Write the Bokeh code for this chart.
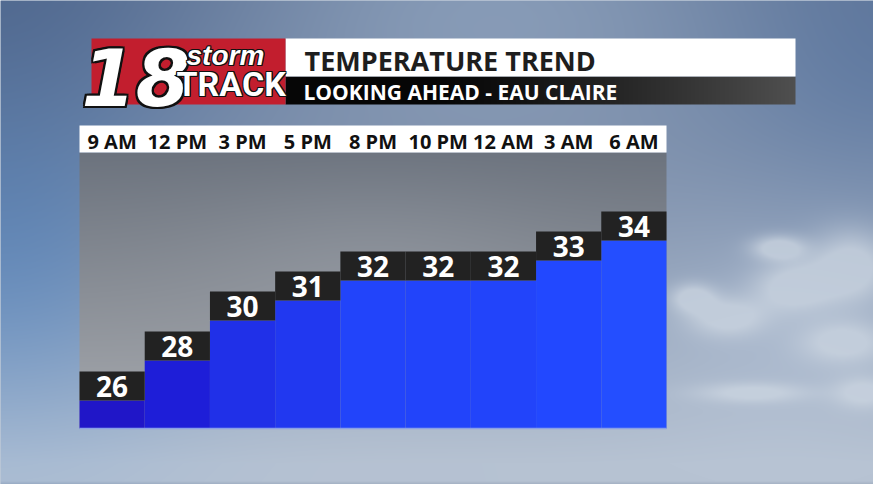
import numpy as np
from bokeh.plotting import figure
from bokeh.models import Range1d
from bokeh.core.properties import value
from bokeh.embed import file_html
from bokeh.resources import INLINE

# ---------------- data ----------------
HOURS = ["9 AM", "12 PM", "3 PM", "5 PM", "8 PM", "10 PM", "12 AM", "3 AM", "6 AM"]
TEMPS = [26, 28, 30, 31, 32, 32, 32, 33, 34]
TITLE = "TEMPERATURE TREND"
SUBTITLE = "LOOKING AHEAD - EAU CLAIRE"

# ---------------- styles ----------------
BAR_COLORS = ["#2016c8", "#1e1ed8", "#2030e8", "#2138f0", "#2244fa",
              "#2244fa", "#2244fa", "#2248ff", "#244eff"]
BOX_COLOR = "#222222"
FONT = "Open Sans"

# ---------------- layout helpers (reference pixel -> data) ----------------
W, H = 873, 484
BW = 587 / 9.0          # pixels per bar slot
PX_PER_DEG = 20.0       # pixels per degree
Y_BASE = 24.6           # bottom of the bar panel, degrees
SHIFT = 0.32            # baseline correction, fraction of font size


def X(px):
    return (px - 87) / BW - 0.5


def Y(py):
    return Y_BASE + (436 - py) / PX_PER_DEG


def TY(py, size):
    return Y(py - SHIFT * size)


BOX_H = 29 / PX_PER_DEG

p = figure(width=W, height=H, output_backend="svg", toolbar_location=None,
           x_range=Range1d(X(8), X(8 + W)), y_range=Range1d(Y(8 + H), Y(8)),
           min_border=0)
p.axis.visible = False
p.grid.visible = False
p.outline_line_color = None
p.background_fill_color = "#8096b2"
p.border_fill_color = "#8096b2"

# ---------------- background image ----------------
xs = np.arange(W) + 8.0
ys = np.arange(H) + 8.0
XX, YY = np.meshgrid(xs, ys)


def g(cx, cy, sx, sy):
    return np.exp(-(((XX - cx) / sx) ** 2 + ((YY - cy) / sy) ** 2))


def add(img, col, w):
    return img + np.array(col, float)[None, None, :] * w[..., None]


t = np.clip(YY / 470.0, 0, 1) ** 1.2
top = np.array([104, 124, 156], float)
bot = np.array([182, 194, 210], float)
img = top[None, None, :] * (1 - t[..., None]) + bot[None, None, :] * t[..., None]
img = add(img, [-40, -20, 2], g(0, 280, 200, 190))
img = add(img, [-18, -16, -12], g(0, 0, 220, 150))
img = add(img, [30, 30, 26], g(500, 0, 260, 130))
img = add(img, [-16, -10, -2], g(889, 90, 160, 140))
img = add(img, [10, 10, 10], g(790, 330, 140, 110))
img = add(img, [-35, -32, -28], np.clip((YY - 488) / 6.0, 0, 1))
cloud = (g(800, 295, 40, 26) + g(858, 275, 40, 36) + g(735, 325, 40, 20)
         + g(850, 350, 45, 22) + g(760, 400, 55, 10) + g(870, 400, 30, 16)
         + g(785, 255, 26, 12) + g(700, 305, 22, 14))
cloud = np.clip(cloud * 1.3, 0, 1) * 0.8
cc = np.array([202, 212, 224], float)
img = img * (1 - cloud[..., None]) + cc[None, None, :] * cloud[..., None]

# chart panel
panel = (XX >= 87) & (XX < 674) & (YY >= 160) & (YY < 436)
tp = np.clip((YY - 160) / 276.0, 0, 1)
pc = (np.array([108, 115, 126], float)[None, None, :] * (1 - tp[..., None])
      + np.array([166, 169, 174], float)[None, None, :] * tp[..., None])
pc += 10 * g(380, 260, 180, 90)[..., None]
img[panel] = pc[panel]

# subtitle bar gradient
sub = (XX >= 293) & (XX < 803) & (YY >= 84) & (YY < 112)
v = np.clip((XX - 430) / (803 - 430), 0, 1) ** 1.3
gray = 6 + 74 * v
img[sub] = np.stack([gray, gray, gray], axis=-1)[sub]

img = np.clip(img, 0, 255).astype(np.uint8)
rgba = np.empty((H, W), dtype=np.uint32)
view = rgba.view(dtype=np.uint8).reshape((H, W, 4))
view[..., :3] = img
view[..., 3] = 255
rgba = np.flipud(rgba)
p.image_rgba(image=[rgba], x=X(8), y=Y(8 + H), dw=X(8 + W) - X(8), dh=Y(8) - Y(8 + H))

# ---------------- header ----------------
p.quad(left=[X(293)], right=[X(803)], top=[Y(46)], bottom=[Y(84)],
       fill_color="white", line_color=None)
p.quad(left=[X(99)], right=[X(293)], top=[Y(46)], bottom=[Y(112)],
       fill_color="#c21e2e", line_color=None)
p.text(x=[X(312)], y=[TY(77, 27)], text=[TITLE], text_align="left",
       text_baseline="alphabetic", text_font=value(FONT), text_font_style="bold",
       text_font_size="27px", text_color="#1e1e1e")
p.text(x=[X(311)], y=[TY(106, 21)], text=[SUBTITLE], text_align="left",
       text_baseline="alphabetic", text_font=value(FONT), text_font_style="bold",
       text_font_size="21px", text_color="white")


def outlined(txt, px, py, font, size, style, off, shift=SHIFT):
    ty = py - shift * size
    for ox, oy in [(-off, 0), (off, 0), (0, -off), (0, off),
                   (-off, -off), (off, off), (-off, off), (off, -off)]:
        p.text(x=[X(px + ox)], y=[Y(ty + oy)], text=[txt], text_align="left",
               text_baseline="alphabetic", text_font=value(font),
               text_font_style=style, text_font_size=f"{size}px",
               text_color="#111111")
    p.text(x=[X(px)], y=[Y(ty)], text=[txt], text_align="left",
           text_baseline="alphabetic", text_font=value(font),
           text_font_style=style, text_font_size=f"{size}px", text_color="white")


outlined("18", 89, 106, "DejaVu Sans", 78, "bold italic", 2, 0.27)
outlined("storm", 194, 72, "Liberation Sans", 28, "bold italic", 1)
outlined("TRACK", 184, 102, "Roboto", 34, "bold", 1)

# ---------------- category band ----------------
idx = list(range(len(HOURS)))
p.quad(left=[X(87)], right=[X(674)], top=[Y(133)], bottom=[Y(160)],
       fill_color="white", line_color=None)
p.text(x=idx, y=[TY(155, 20)] * len(HOURS), text=HOURS, text_align="center",
       text_baseline="alphabetic", text_font=value(FONT), text_font_style="bold",
       text_font_size="20px", text_color="#111111")

# ---------------- bars ----------------
p.vbar(x=idx, width=1.0, bottom=Y_BASE, top=TEMPS, fill_color=BAR_COLORS,
       line_color=None)
p.vbar(x=idx, width=1.0, bottom=TEMPS, top=[t_ + BOX_H for t_ in TEMPS],
       fill_color=BOX_COLOR, line_color=None)
p.segment(x0=[X(87)], x1=[X(674)], y0=[Y(436)], y1=[Y(436)],
          line_color="#8aa0e6", line_width=1.5)
num_lift = (5 + SHIFT * 28) / PX_PER_DEG
p.text(x=idx, y=[t_ + num_lift for t_ in TEMPS], text=[str(t_) for t_ in TEMPS],
       text_align="center", text_baseline="alphabetic", text_font=value(FONT),
       text_font_style="bold", text_font_size="28px", text_color="white")

open("out.html", "w").write(file_html(p, INLINE))
